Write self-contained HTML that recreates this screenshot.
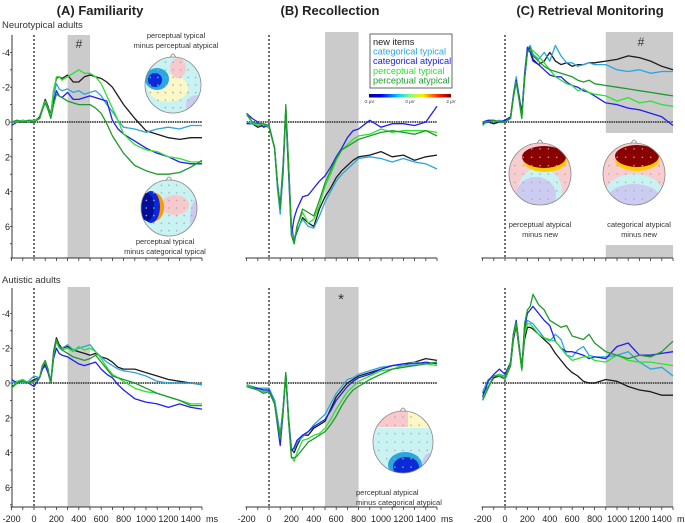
<!DOCTYPE html>
<html><head><meta charset="utf-8"><style>
html,body{margin:0;padding:0;background:#fff;}
svg{display:block;font-family:"Liberation Sans",sans-serif;}
</style></head><body>
<svg id="fig" width="685" height="523" viewBox="0 0 685 523" xmlns="http://www.w3.org/2000/svg">
<defs>
<linearGradient id="cbar" x1="0" x2="1" y1="0" y2="0">
<stop offset="0" stop-color="#00008f"/><stop offset="0.15" stop-color="#0000ff"/><stop offset="0.35" stop-color="#00ccff"/><stop offset="0.5" stop-color="#7fff7f"/><stop offset="0.65" stop-color="#ffee00"/><stop offset="0.85" stop-color="#ff2000"/><stop offset="1" stop-color="#800000"/>
</linearGradient>
<clipPath id="cA1"><circle cx="173" cy="85" r="28"/></clipPath>
<clipPath id="cA2"><circle cx="169" cy="208" r="28"/></clipPath>
<clipPath id="cB2"><ellipse cx="403" cy="442" rx="30" ry="31"/></clipPath>
<clipPath id="cC1"><circle cx="540" cy="174" r="31"/></clipPath>
<clipPath id="cC2"><circle cx="634" cy="174" r="31"/></clipPath>
</defs>
<g id="bg"></g>
<g id="marks"></g>
<g id="over"></g>
</svg>
<script>
const times = [-200,-150,-100,-50,0,50,75,100,125,150,175,200,225,250,300,350,400,450,500,550,600,650,700,750,800,900,1000,1100,1200,1300,1400,1500];
const seriesNames = ["new items","categorical typical","categorical atypical","perceptual typical","perceptual atypical"];
const seriesColors = ["#1c1c1c","#2aa6de","#2020f0","#30e030","#1f9a2c"];
const aTopNew  = [0,0,0,0,0,-0.3,-0.8,-1.3,-0.9,-0.4,-1.8,-2.5,-2.6,-2.5,-2.7,-2.3,-2.3,-2.6,-2.7,-2.6,-2.5,-2.3,-2.0,-1.5,-1.0,-0.2,0.5,0.7,0.9,1.0,0.9,0.9];
const aTopCT   = [0,-0.1,0,-0.1,-0.1,-0.2,-0.8,-1.2,-0.8,-0.3,-1.5,-2.2,-1.9,-1.8,-1.9,-1.7,-1.8,-1.6,-1.7,-1.8,-1.5,-1.0,-0.6,-0.1,0.3,0.4,0.6,0.4,0.3,0.4,0.2,0.2];
const aTopCA   = [0.2,0,-0.1,0,-0.1,-0.2,-0.7,-1.2,-0.8,-0.3,-1.2,-1.8,-1.5,-1.4,-1.7,-1.3,-1.3,-1.4,-1.5,-1.4,-1.3,-1.2,-0.1,0.4,0.7,1.1,1.5,1.8,2.0,2.3,2.4,2.4];
const aTopPT   = [0,0,-0.1,0,-0.1,-0.2,-0.8,-1.2,-0.8,-0.3,-1.8,-2.6,-2.6,-2.4,-2.6,-2.8,-3.0,-2.8,-2.8,-2.6,-2.2,-1.5,-0.8,-0.1,0.7,1.3,1.6,1.7,2.0,2.1,2.3,2.3];
const aTopPA   = [0,-0.1,0,-0.1,0,-0.2,-0.7,-1.1,-0.7,-0.2,-1.0,-1.6,-1.5,-1.4,-1.2,-1.1,-1.0,-1.0,-1.0,-0.8,-0.5,0.1,0.8,1.3,1.8,2.5,2.8,3.0,3.0,2.9,2.6,2.2];
const bTopNew  = [0.1,0.1,0.3,0.2,0.3,1.5,3.5,5.0,3.0,-0.5,2.5,6.0,6.8,6.3,5.5,5.8,6.0,5.0,4.3,3.8,3.2,2.8,2.5,2.2,2.0,1.9,1.7,2.0,1.9,2.2,2.0,1.9];
const bTopCT   = [0,0.1,0.2,0.2,0.2,1.5,3.8,5.3,3.0,-0.8,2.5,6.0,6.7,6.2,5.6,6.0,6.1,5.4,4.6,4.0,3.4,3.0,2.7,2.4,2.1,2.0,2.1,2.3,2.1,2.3,2.4,2.7];
const bTopCA   = [-0.5,-0.2,0,0.3,0.2,1.5,3.5,4.8,2.5,-0.6,3.0,6.5,5.5,5.0,4.3,4.2,3.8,3.4,3.1,2.6,2.0,1.5,0.9,0.5,0.4,-0.1,0.3,0.1,0.1,0.2,0.0,-0.9];
const bTopPT   = [-0.4,0,0.2,0.1,0.3,1.5,3.5,5.0,2.8,-0.8,2.5,6.5,7.0,6.0,5.2,5.8,5.6,4.8,3.7,3.0,2.2,1.6,1.3,1.0,0.8,0.7,0.4,0.6,0.5,0.5,0.5,0.6];
const bTopPA   = [-0.5,0,0.1,0.1,0.2,1.5,3.6,5.0,2.8,-1.0,2.5,6.5,7.0,6.0,5.0,5.2,5.4,4.5,3.5,2.8,2.1,1.6,1.4,1.2,1.0,0.8,0.6,0.5,0.6,0.7,0.5,0.8];
const cTopNew  = [0.1,0,0.1,0,0,-0.3,-1.5,-2.3,-1.5,-0.5,-2.5,-4.0,-4.3,-3.6,-3.3,-3.5,-4.0,-3.5,-3.3,-3.4,-3.2,-3.3,-3.3,-3.4,-3.4,-3.5,-3.6,-3.8,-3.7,-3.5,-3.2,-3.0];
const cTopCT   = [0.2,-0.1,0,-0.1,0,-0.3,-1.6,-2.6,-1.5,-0.3,-2.5,-4.2,-4.4,-3.9,-3.6,-4.0,-3.5,-4.4,-3.8,-3.4,-3.4,-3.2,-3.3,-3.4,-3.3,-3.3,-3.0,-2.9,-3.0,-2.8,-2.9,-2.9];
const cTopCA   = [0,-0.1,-0.1,0,-0.1,-0.3,-1.5,-2.4,-1.5,-0.4,-2.8,-4.3,-4.0,-3.5,-3.3,-3.0,-2.7,-2.6,-2.6,-2.3,-2.1,-2.0,-1.8,-1.7,-1.5,-1.1,-1.0,-0.8,-0.7,-0.5,-0.3,0.2];
const cTopPT   = [0,0,-0.1,0,0,-0.2,-1.4,-2.3,-1.3,-0.2,-2.5,-4.0,-4.2,-4.1,-3.8,-3.4,-3.0,-2.6,-2.4,-2.2,-2.1,-1.8,-1.9,-1.7,-1.6,-1.5,-1.2,-1.4,-1.1,-1.2,-1.0,-0.9];
const cTopPA   = [0,0,-0.1,0,0,-0.2,-1.4,-2.3,-1.3,-0.2,-2.5,-4.0,-4.2,-3.8,-3.5,-3.2,-3.0,-2.9,-2.8,-2.7,-2.6,-2.4,-2.3,-2.4,-2.2,-2.1,-2.0,-1.9,-1.8,-1.7,-1.6,-1.5];
const aBotNew  = [0.2,0,-0.2,0,-0.2,-0.3,-0.8,-1.1,-0.7,0,-1.8,-2.6,-2.2,-2.0,-2.1,-1.9,-1.8,-1.7,-1.6,-1.7,-1.5,-1.4,-1.2,-0.9,-0.8,-0.8,-0.6,-0.4,-0.2,-0.1,0,0.1];
const aBotCT   = [0,-0.1,0,-0.1,-0.4,-0.3,-0.8,-1.0,-0.7,0,-1.6,-2.4,-2.1,-2.0,-2.2,-1.9,-2.0,-2.1,-2.2,-1.8,-1.5,-1.2,-1.0,-0.8,-0.7,-0.6,-0.4,-0.1,0,0,0,0.1];
const aBotCA   = [-0.2,0,-0.1,0,0.2,-0.3,-0.8,-1.0,-0.6,0,-1.4,-2.0,-1.7,-1.6,-1.5,-1.3,-1.1,-1.0,-1.1,-1.2,-0.8,-0.5,-0.3,0.1,0.4,0.9,1.1,1.2,1.4,1.2,1.4,1.5];
const aBotPT   = [0.3,-0.1,-0.2,0,-0.1,-0.3,-1.0,-1.2,-0.8,0,-1.6,-2.4,-2.0,-1.9,-2.0,-1.8,-2.1,-1.9,-2.0,-1.8,-1.4,-0.9,-0.5,-0.3,-0.1,0.3,0.5,0.6,0.8,1.0,1.2,1.2];
const aBotPA   = [0.3,0,-0.1,0,-0.1,-0.3,-1.0,-1.3,-0.8,0,-1.7,-2.5,-2.1,-1.9,-1.7,-1.5,-1.4,-1.3,-1.4,-1.6,-1.2,-0.8,-0.4,-0.3,-0.2,0,0.3,0.6,0.8,1.0,1.3,1.3];
const bBotNew  = [0.1,0.2,0.3,0.4,0.4,1.0,2.0,3.0,1.5,-0.5,2.0,3.8,4.0,3.6,3.0,3.0,2.6,2.4,2.2,1.5,0.8,0.4,0,-0.2,-0.4,-0.6,-0.8,-1.0,-1.1,-1.2,-1.4,-1.3];
const bBotCT   = [0.1,0.2,0.3,0.3,0.3,1.0,2.0,3.0,1.5,-0.5,2.0,3.8,3.8,3.4,3.1,2.8,2.4,2.1,1.8,1.2,0.6,0.2,-0.2,-0.3,-0.5,-0.7,-0.9,-1.0,-1.0,-1.2,-1.1,-1.2];
const bBotCA   = [0.2,0.3,0.3,0.4,0.4,1.2,2.4,3.6,1.8,-0.4,2.2,3.9,3.7,3.3,3.0,2.8,2.5,2.3,2.1,1.6,1.0,0.6,0.2,-0.1,-0.3,-0.5,-0.8,-1.0,-1.1,-1.1,-1.2,-1.1];
const bBotPT   = [0.1,0.3,0.4,0.5,0.5,1.2,2.2,3.2,1.6,-0.6,2.2,4.2,4.5,4.0,3.3,3.2,3.0,2.9,2.6,2.1,1.5,1.0,0.5,0.2,-0.1,-0.4,-0.7,-0.8,-1.0,-1.0,-1.1,-1.0];
const bBotPA   = [0.2,0.3,0.4,0.6,0.5,1.2,2.2,3.2,1.6,-0.6,2.2,4.3,4.3,4.2,3.8,3.4,3.2,3.0,2.8,2.4,1.9,1.3,0.8,0.4,0.2,-0.2,-0.5,-0.8,-0.9,-1.0,-1.1,-1.2];
const cBotNew  = [0.6,0.2,-0.3,-0.4,-0.2,-1.0,-2.5,-3.3,-2.0,-0.8,-2.5,-3.2,-3.2,-3.1,-2.8,-2.5,-2.2,-1.7,-1.3,-0.9,-0.6,-0.4,-0.1,0,0,-0.2,-0.1,0.2,0.4,0.5,0.7,0.7];
const cBotCT   = [0.5,-0.2,-0.4,-0.5,-0.4,-1.2,-2.8,-3.6,-2.2,-0.8,-3.0,-3.6,-3.5,-3.4,-3.0,-2.6,-2.4,-2.8,-2.5,-1.6,-1.5,-1.9,-2.1,-1.6,-1.5,-1.5,-1.6,-1.8,-1.2,-0.8,-0.9,-0.4];
const cBotCA   = [0.8,-0.1,-0.5,-0.8,-0.5,-1.2,-2.8,-3.6,-2.2,-0.8,-3.2,-4.0,-4.2,-4.4,-4.0,-3.6,-3.3,-2.4,-2.0,-1.8,-1.8,-1.7,-1.6,-1.4,-1.5,-1.4,-2.1,-2.3,-1.6,-1.6,-1.7,-1.8];
const cBotPT   = [0.9,0.2,-0.4,-0.5,-0.2,-1.1,-2.7,-3.4,-2.1,-0.7,-2.8,-3.4,-3.4,-3.2,-2.8,-2.6,-2.5,-2.4,-2.0,-1.6,-1.3,-1.4,-1.5,-1.5,-1.3,-1.2,-1.6,-1.3,-1.2,-1.2,-1.1,-1.0];
const cBotPA   = [1.0,0.3,-0.4,-0.4,-0.3,-1.2,-2.8,-3.5,-2.2,-0.8,-3.4,-4.2,-4.4,-5.1,-4.5,-4.2,-3.6,-3.4,-3.2,-3.3,-2.7,-2.6,-2.5,-2.8,-2.3,-1.8,-1.6,-1.4,-1.6,-1.5,-1.8,-2.4];
const xTickLabels = [-200,0,200,400,600,800,1000,1200,1400];
const yTickLabels = [-4,-2,0,2,4,6];

const NS="http://www.w3.org/2000/svg";
const bg=document.getElementById('bg'), marks=document.getElementById('marks'), over=document.getElementById('over');
function mk(tag,attrs,parent,text){const e=document.createElementNS(NS,tag);for(const k in attrs)e.setAttribute(k,attrs[k]);if(text!==undefined)e.textContent=text;parent.appendChild(e);return e;}

const PXMS=0.112, PXUV=17.4;
const panels=[
 {id:'a-top',x0:34,y0:122,axisY:258,top:35,data:[aTopNew,aTopCT,aTopCA,aTopPT,aTopPA],gray:[[300,500,35,258]],labels:false},
 {id:'b-top',x0:269,y0:122,axisY:258,top:35,data:[bTopNew,bTopCT,bTopCA,bTopPT,bTopPA],gray:[[500,800,32,258]],labels:false},
 {id:'c-top',x0:505,y0:122,axisY:258,top:35,data:[cTopNew,cTopCT,cTopCA,cTopPT,cTopPA],gray:[[900,1500,32,133],[900,1500,245,258]],labels:false},
 {id:'a-bottom',x0:34,y0:383,axisY:507,top:288,data:[aBotNew,aBotCT,aBotCA,aBotPT,aBotPA],gray:[[300,500,287,507]],labels:true},
 {id:'b-bottom',x0:269,y0:383,axisY:507,top:288,data:[bBotNew,bBotCT,bBotCA,bBotPT,bBotPA],gray:[[500,800,287,507]],labels:true},
 {id:'c-bottom',x0:505,y0:383,axisY:507,top:288,data:[cBotNew,cBotCT,cBotCA,cBotPT,cBotPA],gray:[[900,1500,287,507]],labels:true}
];
panels.forEach(p=>{
 const xs=t=>p.x0+t*PXMS, ys=v=>p.y0+v*PXUV;
 p.gray.forEach((g,i)=>{
  const r=mk('rect',{x:xs(g[0]),y:g[2],width:xs(g[1])-xs(g[0]),height:g[3]-g[2],fill:'#cbcbcb'},bg);
  
  
 });
 const ax=mk('line',{x1:xs(-210),x2:xs(1500),y1:p.axisY,y2:p.axisY,stroke:'#333','stroke-width':1},bg);
 
 
 for(let t=-200;t<=1500;t+=100){mk('line',{x1:xs(t),x2:xs(t),y1:p.axisY,y2:p.axisY+3,stroke:'#333','stroke-width':0.8},bg);}
 if(p.labels){
  xTickLabels.forEach(t=>{
   const tl=mk('text',{x:xs(t),y:p.axisY+15,'font-size':9,'text-anchor':'middle',fill:'#222'},bg,String(t));
   
   
  });
  const ms=mk('text',{x:xs(1500)+4,y:p.axisY+15,'font-size':9,fill:'#222'},bg,'ms');
  
  
 }
 const on=mk('line',{x1:xs(0),x2:xs(0),y1:p.top,y2:p.axisY,stroke:'#111','stroke-width':1.2,'stroke-dasharray':'2,2'},bg);
 
 
 const z=mk('line',{x1:xs(-200),x2:xs(1500),y1:p.y0,y2:p.y0,stroke:'#555','stroke-width':2,'stroke-dasharray':'1.5,0.8'},bg);
 
 
 if(p.id.startsWith('a')){
  const ya=mk('line',{x1:12,x2:12,y1:p.top,y2:p.axisY,stroke:'#333','stroke-width':1},bg);
  
  
  for(let v=-4;v<=7;v++){const yy=ys(v);if(yy>=p.top&&yy<=p.axisY)mk('line',{x1:10,x2:12,y1:yy,y2:yy,stroke:'#333','stroke-width':0.8},bg);}
  yTickLabels.forEach(v=>{
   const yl=mk('text',{x:10,y:ys(v)+3.5,'font-size':9,'text-anchor':'end',fill:'#222'},bg,String(v));
   
   
  });
 }
 p.data.forEach((arr,si)=>{
  const pts=arr.map((v,i)=>xs(times[i]).toFixed(1)+','+ys(v).toFixed(1)).join(' ');
  const pl=mk('polyline',{points:pts,fill:'none',stroke:seriesColors[si],'stroke-width':1.3,'stroke-linejoin':'round'},marks);
  
  
 });
});

function txt(x,y,s,size,attrs,name){const t=mk('text',Object.assign({x:x,y:y,'font-size':size,fill:'#333'},attrs||{}),over,s);return t;}
txt(100,15,'(A) Familiarity',13,{'font-weight':'bold','text-anchor':'middle',fill:'#222'},'panel-a-title');
txt(330,15,'(B) Recollection',13,{'font-weight':'bold','text-anchor':'middle',fill:'#222'},'panel-b-title');
txt(590,15,'(C) Retrieval Monitoring',13,{'font-weight':'bold','text-anchor':'middle',fill:'#222'},'panel-c-title');
txt(2,28,'Neurotypical adults',9.5,{},'neurotypical-label');
txt(2,283,'Autistic adults',9.5,{},'autistic-label');
txt(79,48,'#',12,{'text-anchor':'middle'},'panel-a-sig-marker');
txt(641,46,'#',12,{'text-anchor':'middle'},'panel-c-sig-marker');
txt(341,304,'*',15,{'text-anchor':'middle'},'panel-b-sig-marker');

const lg=mk('g',{},over);
mk('rect',{x:370,y:34,width:82,height:54,fill:'#fff',stroke:'#666','stroke-width':1},lg);
seriesNames.forEach((n,i)=>{const t=mk('text',{x:373,y:45+i*9.6,'font-size':9.2,fill:seriesColors[i]},lg,n);});
const cb=mk('rect',{x:369,y:94,width:82,height:3.5,fill:'url(#cbar)'},over);
txt(369,103,'-2 µV',4.5,{'text-anchor':'middle'},'colorbar-label');
txt(410,103,'0 µV',4.5,{'text-anchor':'middle'},'colorbar-label');
txt(451,103,'2 µV',4.5,{'text-anchor':'middle'},'colorbar-label');

function topo(cx,cy,rx,ry,clip,blobs,name){
 const g=mk('g',{},over);
 mk('path',{d:`M${cx-3},${cy-ry+1} Q${cx},${cy-ry-7} ${cx+3},${cy-ry+1}`,fill:'#fff',stroke:'#777','stroke-width':0.8},g);
 const inner=mk('g',{'clip-path':'url(#'+clip+')'},g);
 mk('rect',{x:cx-rx,y:cy-ry,width:2*rx,height:2*ry,fill:'#fbf7c6'},inner);
 blobs.forEach(b=>mk(b[0],b[1],inner));
 for(let i=-3;i<=3;i++)for(let j=-3;j<=3;j++){if(i*i+j*j<=10)mk('circle',{cx:cx+i*rx/3.7,cy:cy+j*ry/3.7,r:0.8,fill:'#aaa'},inner);}
 mk('ellipse',{cx:cx,cy:cy,rx:rx,ry:ry,fill:'none',stroke:'#888','stroke-width':0.8},g);
}
topo(173,85,28,28,'cA1',[
 ['rect',{x:145,y:57,width:56,height:56,fill:'#c9f3f3'}],
 ['ellipse',{cx:168,cy:88,rx:20,ry:14,fill:'#fbf7c6'}],
 ['ellipse',{cx:178,cy:68,rx:8,ry:10,fill:'#f7c9cc'}],
 ['ellipse',{cx:198,cy:105,rx:12,ry:10,fill:'#ccccf2'}],
 ['ellipse',{cx:157,cy:79,rx:12,ry:11,fill:'#2aa6e0'}],
 ['ellipse',{cx:155,cy:80,rx:7,ry:7,fill:'#0a2ad8'}]
],'topomap-a-perceptual-typical-minus-atypical');
topo(169,208,28,28,'cA2',[
 ['rect',{x:141,y:180,width:56,height:56,fill:'#c9f3f3'}],
 ['ellipse',{cx:175,cy:205,rx:14,ry:10,fill:'#f7c9cc'}],
 ['ellipse',{cx:196,cy:220,rx:6,ry:20,fill:'#ccccf2'}],
 ['ellipse',{cx:155,cy:207,rx:9,ry:14,fill:'#ff9900'}],
 ['ellipse',{cx:151,cy:207,rx:9,ry:16,fill:'#0a2ad8'}],
 ['ellipse',{cx:147,cy:207,rx:7,ry:14,fill:'#000e9a'}]
],'topomap-a-perceptual-minus-categorical-typical');
topo(403,442,30,31,'cB2',[
 ['rect',{x:373,y:428,width:60,height:50,fill:'#c9f3f3'}],
 ['rect',{x:373,y:411,width:35,height:16,fill:'#f7c9cc'}],
 ['ellipse',{cx:430,cy:465,rx:8,ry:12,fill:'#ccccf2'}],
 ['ellipse',{cx:405,cy:465,rx:17,ry:13,fill:'#2aa6e0'}],
 ['ellipse',{cx:406,cy:467,rx:13,ry:10,fill:'#0a2ad8'}]
],'topomap-b-perceptual-minus-categorical-atypical');
topo(540,174,31,31,'cC1',[
 ['rect',{x:509,y:143,width:62,height:62,fill:'#f8cdd0'}],
 ['ellipse',{cx:540,cy:190,rx:22,ry:22,fill:'#c9f3f3'}],
 ['ellipse',{cx:536,cy:195,rx:20,ry:18,fill:'#ccccf2'}],
 ['ellipse',{cx:545,cy:160,rx:22,ry:12,fill:'#ffcc00'}],
 ['ellipse',{cx:544,cy:157,rx:22,ry:11,fill:'#8a0000'}]
],'topomap-c-perceptual-atypical-minus-new');
topo(634,174,31,31,'cC2',[
 ['rect',{x:603,y:143,width:62,height:62,fill:'#f8cdd0'}],
 ['ellipse',{cx:634,cy:192,rx:28,ry:18,fill:'#c9f3f3'}],
 ['ellipse',{cx:634,cy:198,rx:26,ry:14,fill:'#ccccf2'}],
 ['ellipse',{cx:637,cy:160,rx:22,ry:11,fill:'#ffcc00'}],
 ['ellipse',{cx:637,cy:156,rx:22,ry:11,fill:'#8a0000'}]
],'topomap-c-categorical-atypical-minus-new');
txt(176,38,'perceptual typical',7.5,{'text-anchor':'middle'},'topomap-label');
txt(176,48,'minus perceptual atypical',7.5,{'text-anchor':'middle'},'topomap-label');
txt(165,244,'perceptual typical',7.5,{'text-anchor':'middle'},'topomap-label');
txt(165,254,'minus categorical typical',7.5,{'text-anchor':'middle'},'topomap-label');
txt(540,227,'perceptual atypical',7.5,{'text-anchor':'middle'},'topomap-label');
txt(540,237,'minus new',7.5,{'text-anchor':'middle'},'topomap-label');
txt(639,227,'categorical atypical',7.5,{'text-anchor':'middle'},'topomap-label');
txt(639,237,'minus new',7.5,{'text-anchor':'middle'},'topomap-label');
txt(356,495,'perceptual atypical',7.5,{},'topomap-label');
txt(356,505,'minus categorical atypical',7.5,{},'topomap-label');
</script>
</body></html>
